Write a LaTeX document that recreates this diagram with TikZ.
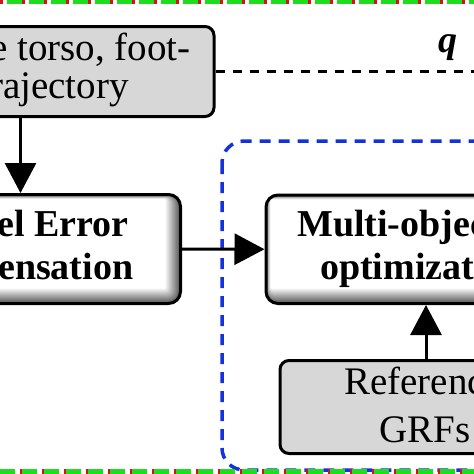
\documentclass[tikz,border=0pt]{standalone}
\usepackage{fontspec}
\setmainfont{Liberation Serif}
\usetikzlibrary{arrows.meta,calc}
\definecolor{boxgray}{RGB}{215,215,215}
\definecolor{frameblue}{RGB}{20,50,220}
\definecolor{bordergreen}{RGB}{30,220,30}
\definecolor{borderred}{RGB}{210,20,20}
\tikzset{
  txt/.style={inner sep=0pt, anchor=base west, font=\fontsize{39}{41}\selectfont},
  btxt/.style={inner sep=0pt, anchor=base west, font=\fontsize{38}{40}\selectfont\bfseries},
  graybox/.style={draw=black, line width=3pt, fill=boxgray, rounded corners=9pt, inner sep=0pt},
  bevelbox/.style={draw=black, line width=3pt, rounded corners=12pt, inner sep=0pt,
    path picture={
      \foreach \i in {0,...,15}{
        \pgfmathsetmacro\sh{max(0,66-4.4*\i)}
        \pgfmathsetmacro\rc{max(1,11-0.65*\i)}
        \fill[black!\sh, rounded corners=\rc pt]
          ($(path picture bounding box.north west)+(0.3*\i,0.3*\i)$) rectangle
          ($(path picture bounding box.south east)+(-\i,-\i)$);
      }
    }},
  arr/.style={line width=3pt, -{Triangle[width=31pt,length=30pt]}},
  qline/.style={line width=3.2pt, dash pattern=on 9pt off 8pt},
  grp/.style={draw=frameblue, line width=3.5pt, dash pattern=on 11pt off 8pt, rounded corners=22pt},
  redb/.style={draw=borderred, line width=4.5pt, dash pattern=on 17.5pt off 4.5pt},
  greenb/.style={draw=bordergreen, line width=4.5pt, dash pattern=on 15pt off 7pt},
}
\begin{document}
\begin{tikzpicture}[x=1pt,y=-1pt]
\useasboundingbox (0,0) rectangle (474,474);
\fill[white] (0,0) rectangle (474,474);
\clip (0,0) rectangle (474,474);

% group frame
\draw[grp] (222,141) rectangle (560,470);

% boxes
\node[graybox, minimum width=234pt, minimum height=90pt] (top) at (97,71.5) {};
\node[bevelbox, minimum width=200.5pt, minimum height=109pt] (err) at (80.25,249) {};
\node[bevelbox, minimum width=274pt, minimum height=108.5pt] (multi) at (403,249.25) {};
\node[graybox, minimum width=260pt, minimum height=93pt] (ref) at (410,407) {};

% texts
\node[txt] (t1) at (-10,60) {e torso, foot-};
\node[txt] (t2) at (-10,98) {rajectory};
\node[btxt] (e1) at (-3,236) {el Error};
\node[btxt] (e2) at (-2,279) {ensation};
\node[btxt] (m1) at (297,236) {Multi-objec};
\node[btxt] (m2) at (320,279) {optimizat};
\node[txt] (r1) at (344,394) {Referenc};
\node[txt] (r2) at (379,442) {GRFs};
\node[txt, font=\fontsize{38}{40}\selectfont\bfseries\itshape] (q) at (438,52) {q};

% connectors
\coordinate (dx) at (20.5,0);
\coordinate (ux) at (426,0);
\coordinate (qend) at (480,71.5);
\draw[arr] (top.south -| dx) -- (err.north -| dx);
\draw[arr] (err.east) -- (multi.west);
\draw[arr] (ref.north -| ux) -- (multi.south -| ux);
\draw[qline] (top.east) -- (qend);

% outer border
\draw[redb] (-37,2) -- (530,2);
\draw[greenb] (-37,2) -- (530,2);
\draw[redb] (521,471.5) -- (-40,471.5);
\draw[greenb] (521,471.5) -- (-40,471.5);
\end{tikzpicture}
\end{document}
